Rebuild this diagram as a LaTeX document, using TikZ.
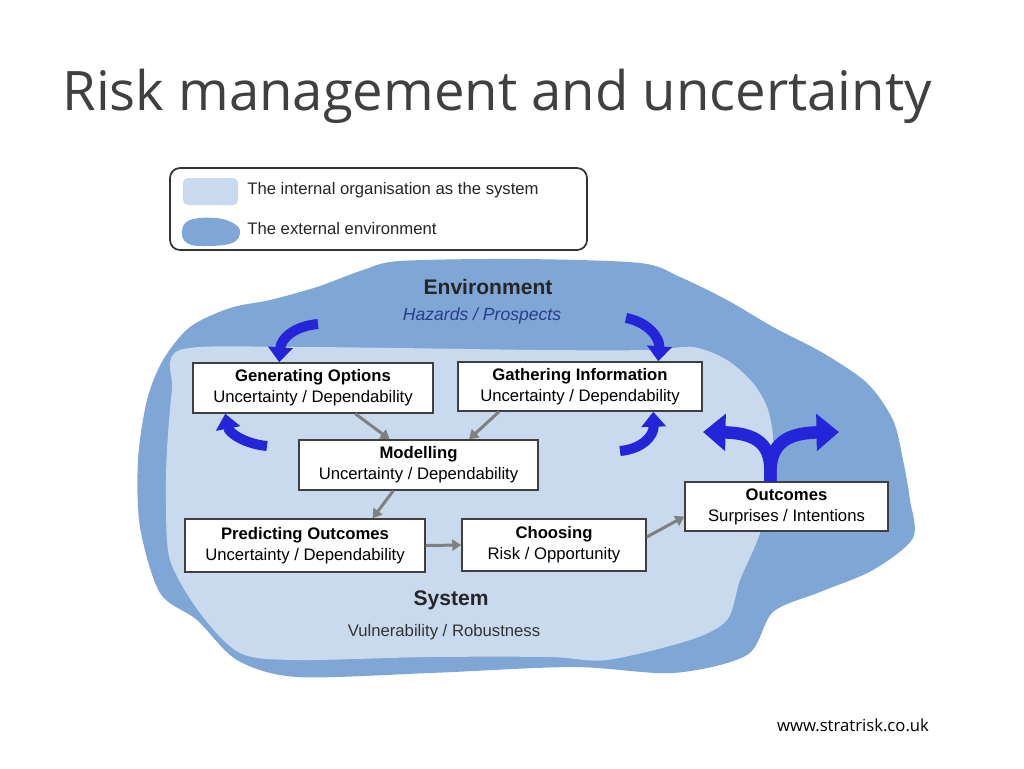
\documentclass[tikz,border=0pt]{standalone}
\usepackage{fontspec}
\setmainfont{Liberation Sans}
\newfontfamily\titlefont{Open Sans}
\usetikzlibrary{arrows.meta,calc}

\definecolor{envblue}{RGB}{128,166,214}
\definecolor{sysblue}{RGB}{201,218,238}
\definecolor{arrowblue}{RGB}{36,36,216}
\definecolor{linkgray}{RGB}{128,128,128}
\definecolor{titlegray}{RGB}{64,64,64}
\definecolor{hazardblue}{RGB}{40,60,140}

\begin{document}
\begin{tikzpicture}
[
	x=0.02cm, y=-0.02cm,
	stepbox/.style={draw=black!75, line width=0.03cm, fill=white, inner sep=0pt, align=center, font=\fontsize{9.5}{12}\selectfont},
	link/.style={linkgray, line width=0.06cm, -{Triangle[width=0.22cm,length=0.18cm]}},
	curlarrow/.style={arrowblue, line width=0.2cm, -{Triangle[width=0.48cm,length=0.3cm]}},
	forkarrow/.style={arrowblue, line width=0.25cm, -{Triangle[width=0.72cm,length=0.45cm]}}
]

	% page
	\fill[white] (0,0) rectangle (1024,768);
	\useasboundingbox (0,0) rectangle (1024,768);

	\node[anchor=base west, inner sep=0pt, text=titlegray, font=\titlefont\fontsize{31}{37}\selectfont] (title) at (62,110) {Risk management and uncertainty};

	% legend
	\draw[black!80, line width=0.035cm, rounded corners=0.2cm, fill=white] (170,168) rectangle (587,250);
	\fill[sysblue, rounded corners=0.1cm] (183,178) rectangle (238,205);
	\fill[envblue] plot[smooth cycle, tension=0.7] coordinates {(190,220) (215,218) (233,223) (240,232) (232,243) (205,246) (187,243) (182,231)};
	\node[anchor=west, inner sep=0pt, font=\fontsize{9.5}{11}\selectfont, text=black!85] (legsys) at (247,190) {The internal organisation as the system};
	\node[anchor=west, inner sep=0pt, font=\fontsize{9.5}{11}\selectfont, text=black!85] (legenv) at (247,229) {The external environment};

	% environment and system
	\fill[envblue] plot[smooth cycle, tension=0.5] coordinates {
		(163,360) (190,327) (230,308) (270,300) (317,287) (363,270) (400,261) (520,259)
		(640,263) (680,277) (727,300) (773,327) (823,353) (867,383) (893,420) (903,460)
		(910,500) (913,538) (873,570) (820,592) (773,612) (747,655) (673,673) (573,667)
		(430,673) (297,677) (237,660) (197,620) (160,593) (140,527) (138,460) (147,400)};
	\fill[sysblue] plot[smooth cycle, tension=0.5] coordinates {
		(180,350) (300,347) (540,350) (650,350) (693,347) (727,360) (753,383) (767,407)
		(773,437) (770,480) (760,533) (740,580) (727,620) (690,640) (607,660) (550,657)
		(430,657) (297,660) (240,653) (200,613) (170,560) (166,500) (167,450) (172,390)};

	\node[font=\bfseries\fontsize{12}{14}\selectfont, text=black!85] (env) at (488,287) {Environment};
	\node[font=\itshape\fontsize{10}{12}\selectfont, text=hazardblue] (hazard) at (482,316) {Hazards / Prospects};
	\node[font=\bfseries\fontsize{12}{14}\selectfont, text=black!85] (sys) at (451,600) {System};
	\node[font=\fontsize{9.5}{12}\selectfont, text=black!80] (robust) at (444,632) {Vulnerability / Robustness};

	% boxes
	\node[stepbox, minimum width=4.8cm, minimum height=1cm] (gen) at (313,388) {\textbf{Generating Options}\\Uncertainty / Dependability};
	\node[stepbox, minimum width=4.88cm, minimum height=0.98cm] (gath) at (580,386.5) {\textbf{Gathering Information}\\Uncertainty / Dependability};
	\node[stepbox, minimum width=4.78cm, minimum height=1cm] (mod) at (418.5,465) {\textbf{Modelling}\\Uncertainty / Dependability};
	\node[stepbox, minimum width=4.8cm, minimum height=1.06cm] (pred) at (305,545.5) {\textbf{Predicting Outcomes}\\Uncertainty / Dependability};
	\node[stepbox, minimum width=3.68cm, minimum height=1.04cm] (choose) at (554,545) {\textbf{Choosing}\\Risk / Opportunity};
	\node[stepbox, minimum width=4.06cm, minimum height=0.98cm] (outc) at (786.5,506.5) {\textbf{Outcomes}\\Surprises / Intentions};

	% grey links
	\draw[link] ($(gen.south west)!0.675!(gen.south east)$) -- ($(mod.north west)!0.38!(mod.north east)$);
	\draw[link] ($(gath.south west)!0.17!(gath.south east)$) -- ($(mod.north west)!0.71!(mod.north east)$);
	\draw[link] ($(mod.south west)!0.395!(mod.south east)$) -- ($(pred.north west)!0.78!(pred.north east)$);
	\draw[link] (pred.east) -- (choose.west);
	\draw[link] ($(choose.north east)!0.35!(choose.south east)$) -- ($(outc.north west)!0.7!(outc.south west)$);

	% blue arrows
	\coordinate (envleft) at (318,324);
	\coordinate (envright) at (626,318);
	\coordinate (backleft) at (267,446);
	\coordinate (backright) at (620,451);
	\draw[curlarrow] (envleft) .. controls (295,326) and (281,338) .. ($(gen.north west)+(87,0)$);
	\draw[curlarrow] (envright) .. controls (648,322) and (660,338) .. ($(gath.north west)+(201,0)$);
	\draw[curlarrow] (backleft) .. controls (245,444) and (229,433) .. ($(gen.south west)+(33,0)$);
	\draw[curlarrow] (backright) .. controls (642,449) and (654,436) .. ($(gath.south west)+(196,0)$);

	\coordinate (forkleft) at (703,432);
	\coordinate (forkright) at (839,432);
	\draw[forkarrow] ($(outc.north west)+(86,0)$) -- ++(0,-10) .. controls (771,445) and (757,433) .. (forkleft);
	\draw[forkarrow] ($(outc.north west)+(86,0)$) -- ++(0,-10) .. controls (771,445) and (785,433) .. (forkright);

	\node[font=\titlefont\fontsize{9.5}{12}\selectfont, text=black] (url) at (853,725) {www.stratrisk.co.uk};

\end{tikzpicture}
\end{document}
